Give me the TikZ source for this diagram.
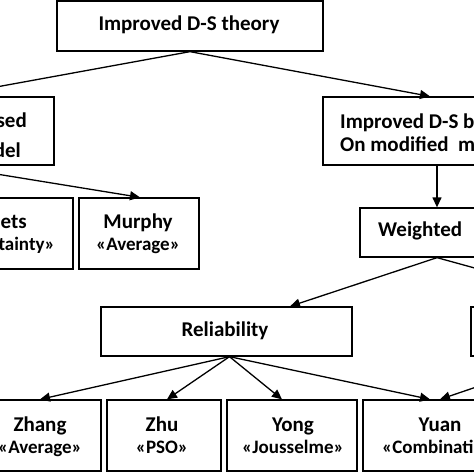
\documentclass[tikz,border=0pt]{standalone}
\usepackage{fontspec}
\setmainfont{Carlito}
\usetikzlibrary{arrows.meta}
\begin{document}
\begin{tikzpicture}[x=1pt,y=-1pt,
  box/.style={draw=black, line width=1.3pt, inner sep=0pt, minimum height=#1},
  head/.style={inner sep=0pt, font=\fontsize{21}{25}\selectfont\bfseries},
  sub/.style={inner sep=0pt, font=\fontsize{19}{23}\selectfont\bfseries},
  arr/.style={draw=black, line width=1.3pt, -{Triangle[length=10pt,width=9pt]}}]
\useasboundingbox (0,0) rectangle (474,474);
\clip (0,0) rectangle (474,474);
\fill[white] (0,0) rectangle (474,474);
% boxes
\node[box=50pt, minimum width=266pt] (top) at (190,26) {};
\node[box=68pt, minimum width=218pt] (left) at (-55,131) {};
\node[box=68pt, minimum width=228pt] (right) at (437,131) {};
\node[box=71pt, minimum width=133pt] (sets) at (6.5,233.5) {};
\node[box=71pt, minimum width=120pt] (murphy) at (139,233.5) {};
\node[box=49pt, minimum width=154pt] (wt) at (437,232.5) {};
\node[box=49pt, minimum width=251pt] (rel) at (226.5,331.5) {};
\node[box=49pt, minimum width=189pt] (rel2) at (565.5,331.5) {};
\node[box=71pt, minimum width=122pt] (zhang) at (40,435.5) {};
\node[box=71pt, minimum width=114pt] (zhu) at (164,435.5) {};
\node[box=71pt, minimum width=130pt] (yong) at (292,435.5) {};
\node[box=71pt, minimum width=154pt] (yuan) at (440,435.5) {};
% texts
\node[head, anchor=base] (t1) at (189,30) {Improved D-S theory};
\node[head, anchor=base east] (t2) at (27,127.5) {sed};
\node[head, anchor=base east] (t3) at (21,157) {del};
\node[head, anchor=base west] (t4) at (340,128) {Improved D-S b};
\node[head, anchor=base west] (t5) at (340,151) {On modified\ \ m};
\node[head, anchor=base east] (t6) at (27,228) {ets};
\node[sub, anchor=base east] (t7) at (55,250) {tainty»};
\node[head, anchor=base] (t8) at (138,228) {Murphy};
\node[sub, anchor=base] (t9) at (138,250) {«Average»};
\node[head, anchor=base west] (t10) at (378,236) {Weighted};
\node[head, anchor=base] (t11) at (225,336.5) {Reliability};
\node[head, anchor=base] (t12) at (40,431) {Zhang};
\node[sub, anchor=base] (t13) at (40,453) {«Average»};
\node[head, anchor=base] (t14) at (162,431) {Zhu};
\node[sub, anchor=base] (t15) at (162,453) {«PSO»};
\node[head, anchor=base] (t16) at (293,431) {Yong};
\node[sub, anchor=base] (t17) at (293,453) {«Jousselme»};
\node[head, anchor=base] (t18) at (440,431) {Yuan};
\node[sub, anchor=base west] (t19) at (382,453) {«Combinati};
% connectors
\draw[arr] (top.south) -- (left.north);
\draw[arr] (top.south) -- ([xshift=-7pt]right.north);
\draw[arr] (right.south) -- (wt.north);
\draw[arr] (left.south) -- ([xshift=1pt]murphy.north);
\draw[arr] (wt.south) -- ([xshift=63.5pt]rel.north);
\draw[arr] (wt.south) -- ([xshift=48.5pt]rel2.north);
\draw[arr] ([xshift=3pt]rel.south) -- (zhang.north);
\draw[arr] ([xshift=3pt]rel.south) -- ([xshift=3pt]zhu.north);
\draw[arr] ([xshift=3pt]rel.south) -- ([xshift=-10pt]yong.north);
\draw[arr] ([xshift=3pt]rel.south) -- ([xshift=-10pt]yuan.north);
\draw[arr] (rel2.south) -- (yuan.north);
\end{tikzpicture}
\end{document}
